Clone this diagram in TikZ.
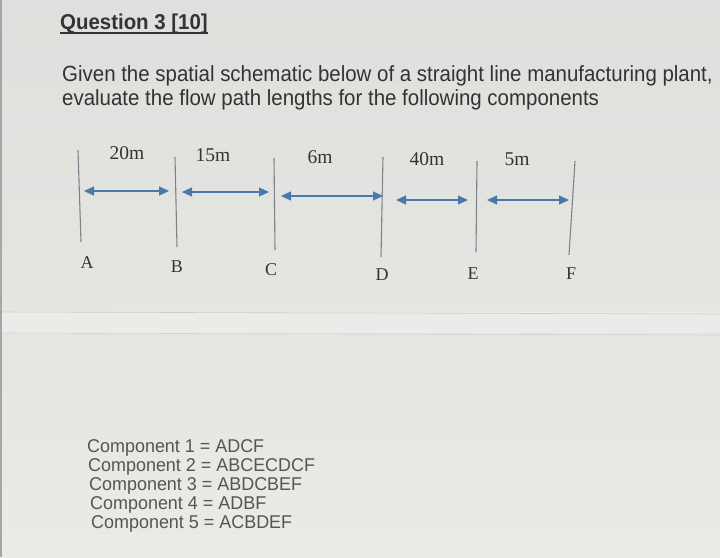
\documentclass[tikz,border=0pt]{standalone}
\usepackage{fontspec}
\setmainfont{Liberation Serif}
\newfontfamily\bodyfont[FakeStretch=0.93]{Liberation Sans}
\newfontfamily\titlefont[FakeStretch=0.95]{Liberation Sans}
\newfontfamily\compfont[FakeStretch=0.97]{Liberation Sans}
\usetikzlibrary{arrows.meta}
\definecolor{bgtop}{HTML}{DFDFDD}
\definecolor{bgbot}{HTML}{E9EBE5}
\definecolor{txt}{HTML}{333333}
\definecolor{comptxt}{HTML}{555555}
\definecolor{stationline}{HTML}{7C838A}
\definecolor{arrowblue}{HTML}{4A78A8}
\tikzset{
  station/.style={draw=stationline, line width=1.1pt},
  dimarrow/.style={draw=arrowblue, line width=1.1pt, {Triangle[length=10pt,width=9pt]}-{Triangle[length=10pt,width=9pt]}},
  dimlabel/.style={font=\fontsize{19.5}{19.5}\selectfont, text=txt, inner sep=0pt},
  stlabel/.style={font=\fontsize{18}{18}\selectfont, text=txt, inner sep=0pt},
  bodytext/.style={font=\bodyfont\fontsize{22}{22}\selectfont, text=txt, inner sep=0pt, anchor=base west},
  comptext/.style={font=\compfont\fontsize{18.5}{18.5}\selectfont, text=comptxt, inner sep=0pt, anchor=base west}
}
\begin{document}
\begin{tikzpicture}[x=1pt,y=-1pt]
\useasboundingbox (0,0) rectangle (720,557);
\shade[top color=bgtop, bottom color=bgbot] (0,0) rectangle (720,557);
\fill[white, opacity=0.25] (0,312) rectangle (720,333);
\draw[gray!40, line width=0.6pt] (0,312) -- (720,314);
\draw[gray!35, line width=0.6pt] (0,333) -- (720,335);
\fill[gray!70] (0,0) rectangle (2,557);

% title and question text
\node[font=\titlefont\bfseries\fontsize{21.5}{21.5}\selectfont, text=txt, inner sep=0pt, anchor=base west] (title) at (60,29) {Question 3 [10]};
\draw[txt, line width=1.4pt] (title.south west |- 0,33) coordinate (ul1) -- (title.south east |- 0,33) coordinate (ul2);
\node[bodytext] (line1) at (62,81) {Given the spatial schematic below of a straight line manufacturing plant,};
\node[bodytext] (line2) at (62,105) {evaluate the flow path lengths for the following components};

% station lines
\coordinate (At) at (78,150);  \coordinate (Ab) at (81,242);
\coordinate (Bt) at (175,157); \coordinate (Bb) at (177,247);
\coordinate (Ct) at (274,158); \coordinate (Cb) at (275,250);
\coordinate (Dt) at (383,157); \coordinate (Db) at (381,257);
\coordinate (Et) at (477,161); \coordinate (Eb) at (476,252);
\coordinate (Ft) at (575,161); \coordinate (Fb) at (569,255);
\draw[station] (At) -- (Ab);
\draw[station] (Bt) -- (Bb);
\draw[station] (Ct) -- (Cb);
\draw[station] (Dt) -- (Db);
\draw[station] (Et) -- (Eb);
\draw[station] (Ft) -- (Fb);

% dimension arrows
\coordinate (ab1) at (84,191);  \coordinate (ab2) at (169,191);
\coordinate (bc1) at (182,192); \coordinate (bc2) at (269,192);
\coordinate (cd1) at (281,196); \coordinate (cd2) at (383,196);
\coordinate (de1) at (396,200); \coordinate (de2) at (468,200);
\coordinate (ef1) at (487,200); \coordinate (ef2) at (569,200);
\draw[dimarrow] (ab1) -- (ab2);
\draw[dimarrow] (bc1) -- (bc2);
\draw[dimarrow] (cd1) -- (cd2);
\draw[dimarrow] (de1) -- (de2);
\draw[dimarrow] (ef1) -- (ef2);

% distance labels
\node[dimlabel] (d1) at (127,153) {20m};
\node[dimlabel] (d2) at (213,155) {15m};
\node[dimlabel] (d3) at (320,157) {6m};
\node[dimlabel] (d4) at (427,159) {40m};
\node[dimlabel] (d5) at (517,159) {5m};

% station labels
\node[stlabel] (lA) at (87,263) {A};
\node[stlabel] (lB) at (177,267) {B};
\node[stlabel] (lC) at (271,270) {C};
\node[stlabel] (lD) at (382,275) {D};
\node[stlabel] (lE) at (473,274) {E};
\node[stlabel] (lF) at (571,274) {F};

% components
\node[comptext] (c1) at (87,452) {Component 1 = ADCF};
\node[comptext] (c2) at (88,471) {Component 2 = ABCECDCF};
\node[comptext] (c3) at (89,490) {Component 3 = ABDCBEF};
\node[comptext] (c4) at (90,509) {Component 4 = ADBF};
\node[comptext] (c5) at (91,528) {Component 5 = ACBDEF};
\end{tikzpicture}
\end{document}
